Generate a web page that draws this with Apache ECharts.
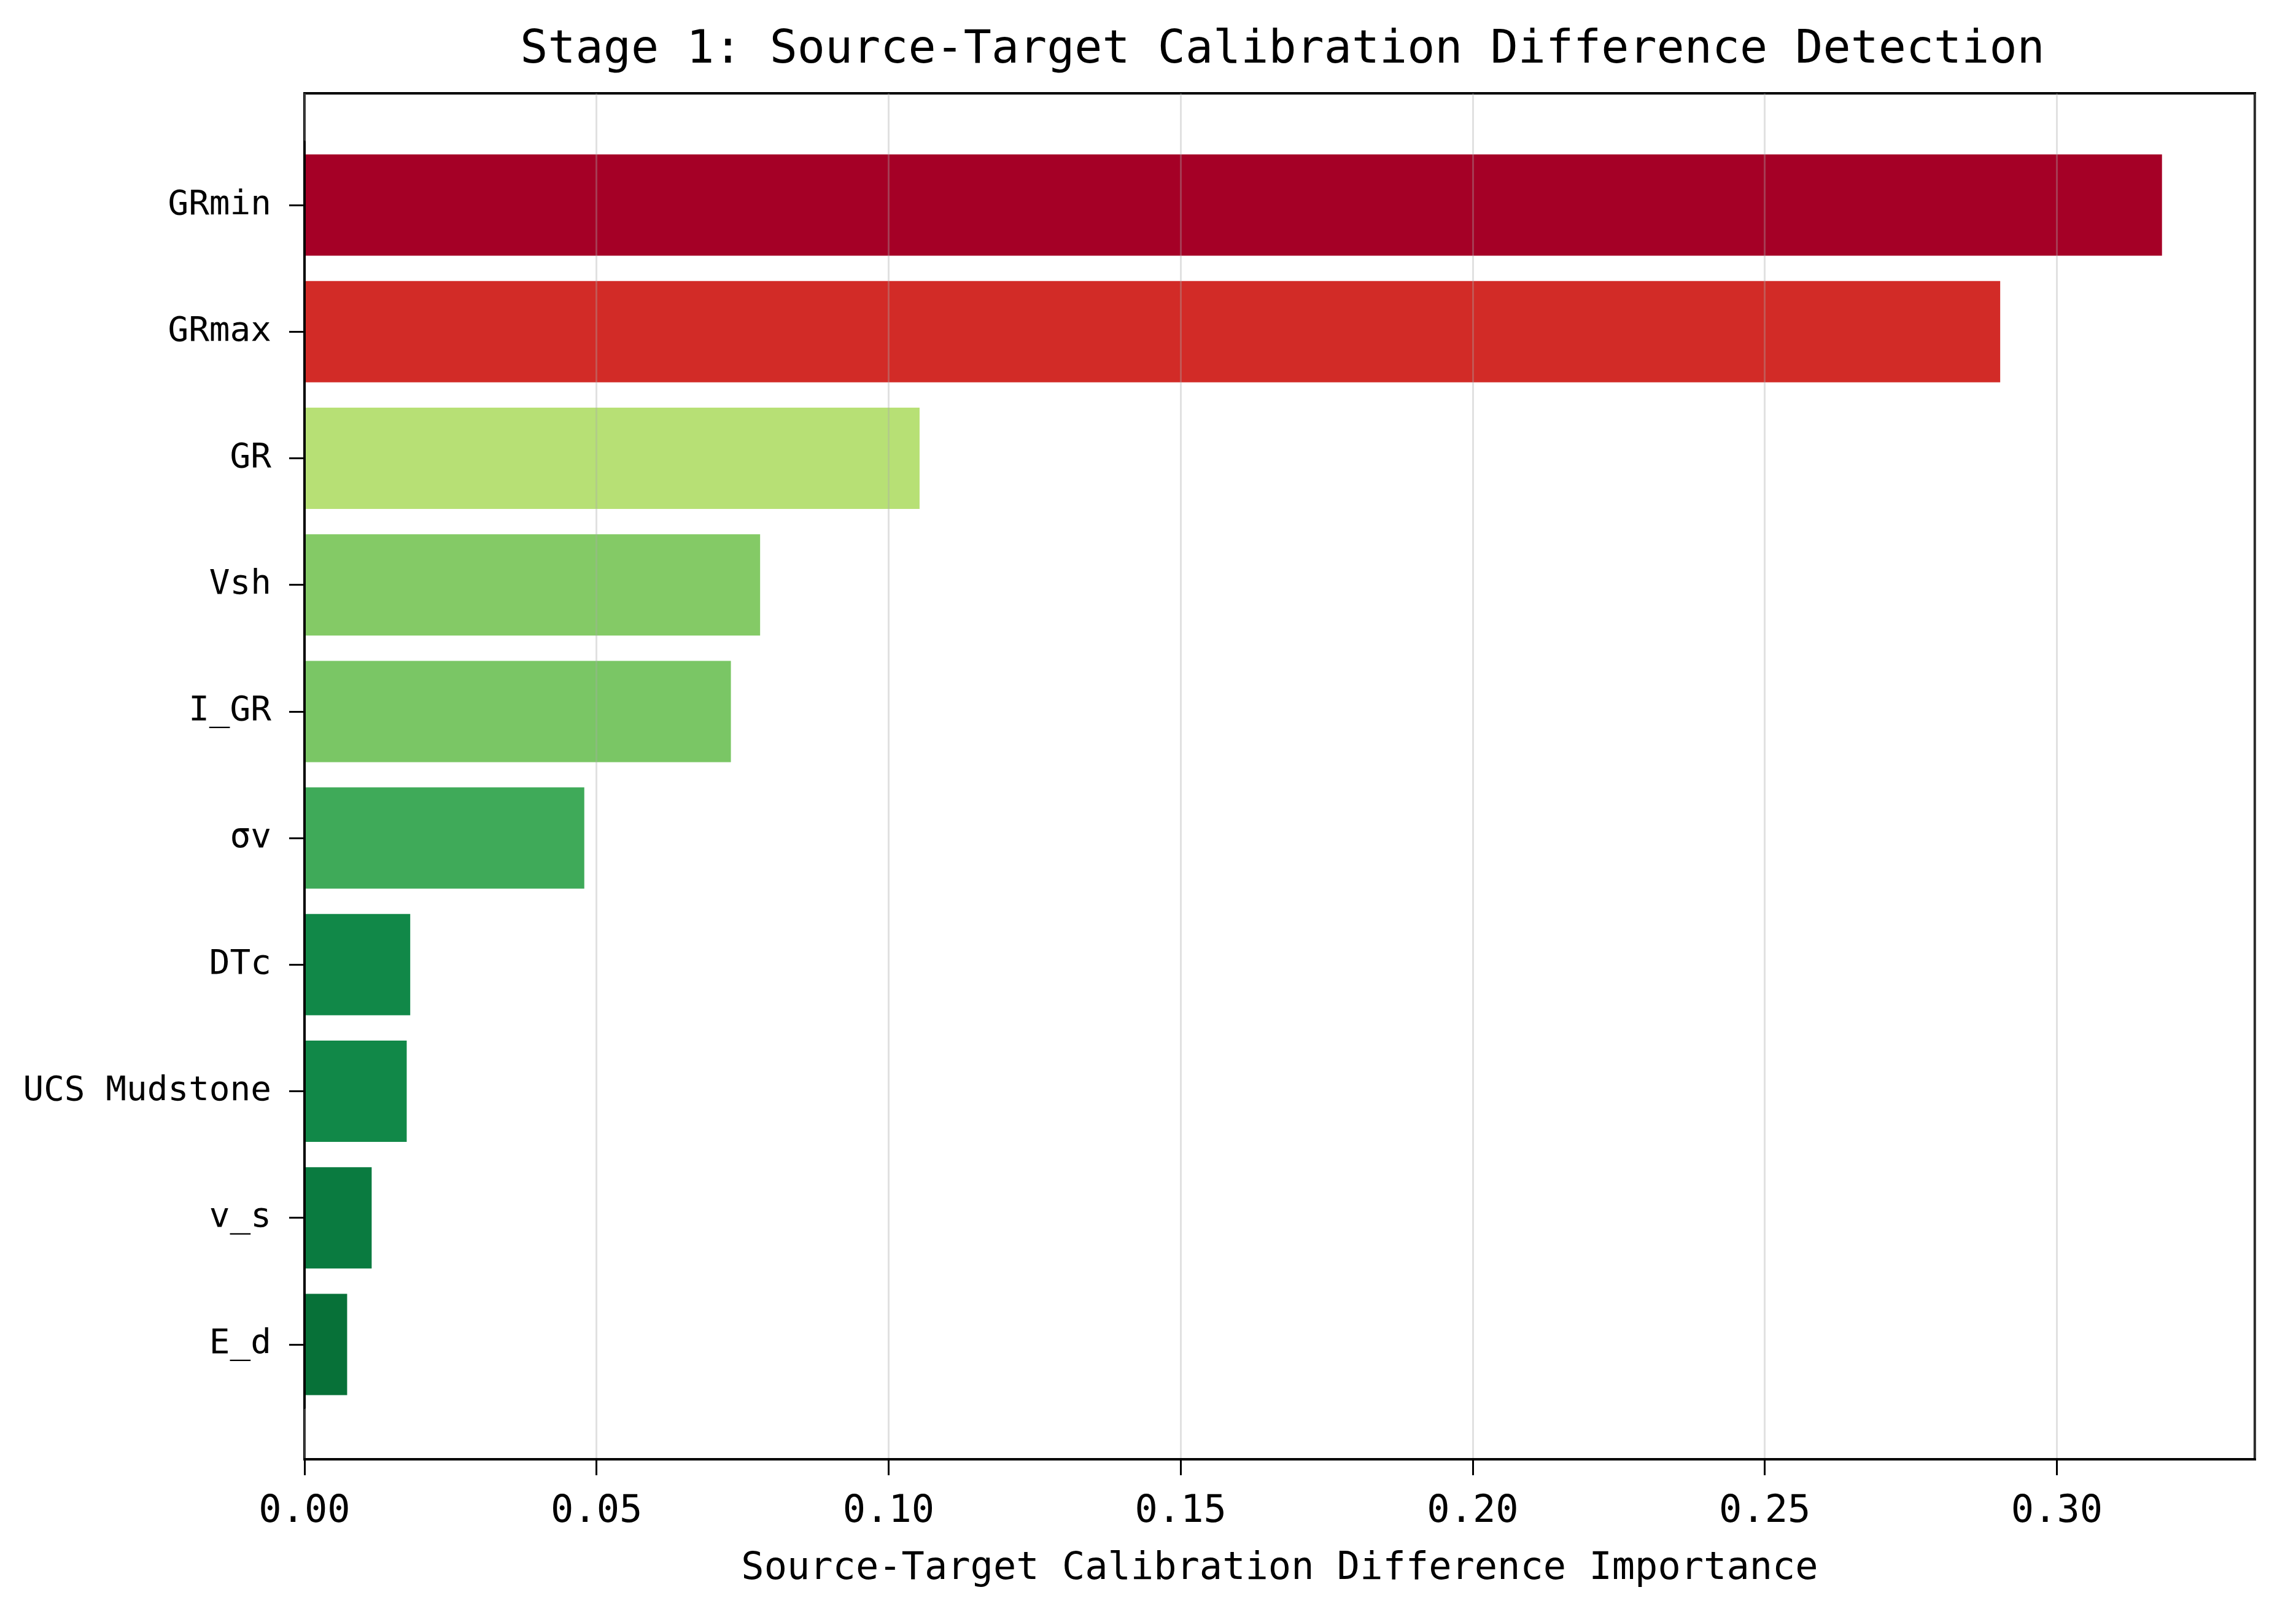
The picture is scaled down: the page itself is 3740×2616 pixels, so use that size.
<!DOCTYPE html>
<html>
<head>
<meta charset="utf-8">
<script src="https://cdn.jsdelivr.net/npm/echarts@6/dist/echarts.min.js"></script>
<style>
  html, body { margin: 0; padding: 0; background: #fff; }
  #chart { width: 3740px; height: 2616px; }
</style>
</head>
<body>
<div id="chart"></div>
<script>
// feature names, top to bottom
const features = ['GRmin', 'GRmax', 'GR', 'Vsh', 'I_GR', 'σv', 'DTc', 'UCS Mudstone', 'v_s', 'E_d']
// importance values
const importance = [0.318, 0.2903, 0.1053, 0.078, 0.073, 0.0479, 0.0181, 0.0175, 0.0115, 0.0073]
// bar colours (RdYlGn)
const barColors = ['#a50026', '#d22b27', '#b7e075', '#84ca66', '#7ac665', '#3faa59', '#118848', '#118848', '#0a7b40', '#077138']

const xMax = 0.3339
const font = 'DejaVu Sans Mono'

const chart = echarts.init(document.getElementById('chart'))

chart.setOption({
  backgroundColor: '#fff',
  animation: false,
  title: {
    text: 'Stage 1: Source-Target Calibration Difference Detection',
    left: 2084,
    top: 40,
    textAlign: 'center',
    textStyle: { fontFamily: font, fontSize: 75, fontWeight: 'normal', color: '#000' }
  },
  grid: [
    // frame + x axis
    { left: 496, right: 67, top: 152, bottom: 239, show: true, borderColor: '#000', borderWidth: 4, backgroundColor: 'transparent' },
    // bars
    { left: 496, right: 67, top: 231, bottom: 323 }
  ],
  xAxis: [
    {
      gridIndex: 0,
      type: 'value',
      min: 0,
      max: xMax,
      interval: 0.05,
      z: 5,
      name: 'Source-Target Calibration Difference Importance',
      nameLocation: 'middle',
      nameGap: 148,
      nameTextStyle: { fontFamily: font, fontSize: 62, color: '#000' },
      axisLine: { show: true, lineStyle: { color: '#000', width: 4 } },
      axisTick: { show: true, length: 26, lineStyle: { color: '#000', width: 3 } },
      axisLabel: {
        show: true, margin: 55, fontFamily: font, fontSize: 62, color: '#000',
        formatter: v => v.toFixed(2),
        showMaxLabel: false
      },
      splitLine: { show: true, lineStyle: { color: 'rgba(170,170,170,0.35)', width: 3 } }
    },
    {
      gridIndex: 1,
      type: 'value',
      min: 0,
      max: xMax,
      show: false
    }
  ],
  yAxis: [
    { gridIndex: 0, type: 'value', show: false },
    {
      gridIndex: 1,
      type: 'category',
      data: features,
      inverse: true,
      z: 6,
      axisLine: { show: true, lineStyle: { color: '#000', width: 4 } },
      axisTick: { show: true, alignWithLabel: true, length: 25, lineStyle: { color: '#000', width: 3 } },
      axisLabel: { margin: 54, fontFamily: font, fontSize: 56, color: '#000', padding: [8, 0, 0, 0] },
      splitLine: { show: false }
    }
  ],
  series: [
    {
      type: 'bar',
      xAxisIndex: 1,
      yAxisIndex: 1,
      barWidth: '80%',
      data: importance.map((v, i) => ({ value: v, itemStyle: { color: barColors[i] } }))
    }
  ]
})
</script>
</body>
</html>
